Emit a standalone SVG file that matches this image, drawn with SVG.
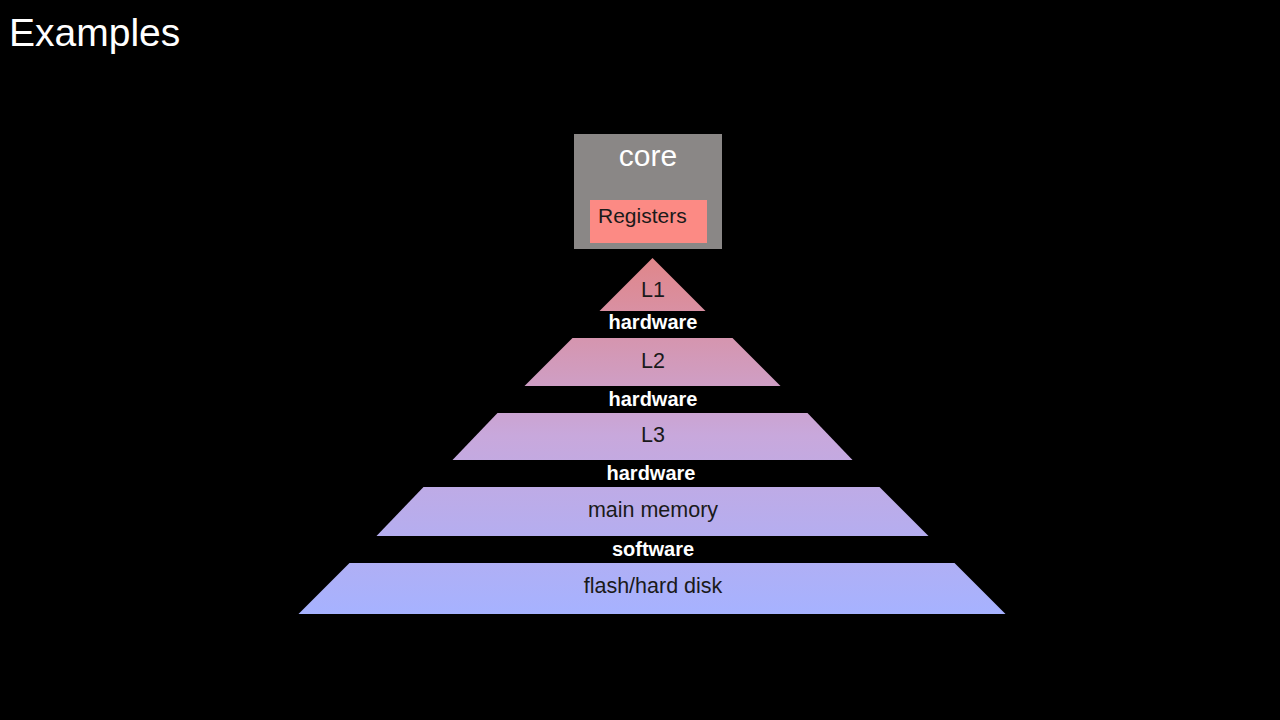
<svg xmlns="http://www.w3.org/2000/svg" width="1280" height="720" viewBox="0 0 1280 720">
<defs>
<linearGradient id="pyr" gradientUnits="userSpaceOnUse" x1="0" y1="258" x2="0" y2="614">
<stop offset="0" stop-color="#e0868a"/>
<stop offset="0.5" stop-color="#c8a8dc"/>
<stop offset="1" stop-color="#a6b2ff"/>
</linearGradient>
<style>
text{font-family:"Liberation Sans",Arial,sans-serif}
.lvl{fill:url(#pyr)}
.lbl{font-size:21.5px;fill:#1a1a1a;text-anchor:middle}
.lnk{font-size:20px;fill:#ffffff;font-weight:bold;text-anchor:middle}
</style>
</defs>
<rect width="1280" height="720" fill="#000000"/>
<text x="9" y="46" font-size="39" fill="#ffffff">Examples</text>
<g id="core">
<rect x="574" y="134" width="148" height="115" fill="#8a8786"/>
<text x="648" y="166" font-size="30" fill="#ffffff" text-anchor="middle">core</text>
</g>
<g id="registers">
<rect x="590" y="200" width="117" height="43" fill="#fc8a84"/>
<text x="598" y="223" font-size="21" fill="#1a1a1a">Registers</text>
</g>
<g id="L1">
<polygon class="lvl" points="652.5,258 705.5,311 599.5,311"/>
<text class="lbl" x="653" y="297">L1</text>
</g>
<g id="L2">
<polygon class="lvl" points="572.5,338 732.5,338 780.5,386 524.5,386"/>
<text class="lbl" x="653" y="368">L2</text>
</g>
<g id="L3">
<polygon class="lvl" points="497.5,413 807.5,413 852.5,460 452.5,460"/>
<text class="lbl" x="653" y="442">L3</text>
</g>
<g id="main-memory">
<polygon class="lvl" points="423.5,487 879.5,487 928.5,536 376.5,536"/>
<text class="lbl" x="653" y="517">main memory</text>
</g>
<g id="flash">
<polygon class="lvl" points="349.5,563 954.5,563 1005.5,614 298.5,614"/>
<text class="lbl" x="653" y="593">flash/hard disk</text>
</g>
<g id="connectors">
<text class="lnk" x="653" y="329">hardware</text>
<text class="lnk" x="653" y="406">hardware</text>
<text class="lnk" x="651" y="480">hardware</text>
<text class="lnk" x="653" y="556">software</text>
</g>
</svg>
